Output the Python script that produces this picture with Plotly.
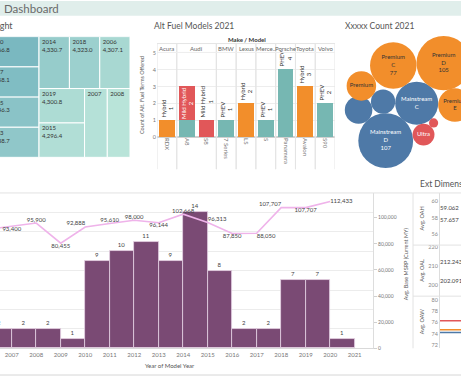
import math
import plotly.graph_objects as go

# ---------------- data ----------------
# Treemap (avg weight by model year); values in visual order (largest first)
tm_years = [2011, 2012, 2009, 2016, 2021, 2020, 2017, 2005, 2013, 2014, 2018, 2006, 2019, 2015, 2007, 2008]
tm_values = [4421.5, 4409.2, 4398.0, 4389.6, 4379.3, 4366.8, 4358.1, 4346.3, 4338.7,
             4330.7, 4323.0, 4307.1, 4300.8, 4296.4, 4290.2, 4285.5]

# Alt fuel models 2021
af_makes = ["Acura", "Audi", "Audi", "BMW", "Lexus", "Mercedes-Benz", "Porsche", "Toyota", "Volvo"]
af_models = ["RDX", "A8", "S8", "7 Series", "LS", "S", "Panamera", "Avalon", "S90"]
af_types = ["PHEV", "Hybrid", "Mild Hybrid"]
af_phev = [0, 1, 0, 1, 0, 1, 4, 0, 2]
af_hybrid = [1, 0, 0, 0, 2, 0, 0, 3, 0]
af_mild = [0, 2, 1, 0, 0, 0, 0, 0, 0]

# Packed bubbles (segment / class / count)
bub_segment = ["Mainstream", "Mainstream", "Premium", "Premium", "Ultra",
               "Mainstream", "Mainstream", "Premium", "Premium", "Ultra"]
bub_class = ["C", "D", "D", "C", "D", "B", "A", "B", "E", "C"]
bub_count = [66, 107, 105, 77, 17, 21, 27, 31, 40, 3]

# Combo chart: count of models and avg base MSRP by model year
cb_years = [2006, 2007, 2008, 2009, 2010, 2011, 2012, 2013, 2014, 2015, 2016, 2017, 2018, 2019, 2020]
cb_counts = [2, 2, 2, 1, 9, 10, 11, 9, 14, 8, 2, 2, 7, 7, 1]
cb_msrp = [91000, 93400, 95900, 80455, 92888, 95610, 98000, 96144, 102668,
           96313, 87850, 88050, 107707, 107707, 112433]

# Ext dimensions
ext_x = [2006, 2021]
ext_oah = [59.062, 57.657]
ext_oal = [212.243, 202.091]
ext_oaw = [76.3, 74.7, 74.2]

# ---------------- styles / layout params ----------------
W, H = 461, 380
FONT = "Lato, 'Open Sans', sans-serif"
ORANGE, TEAL, RED, BLUE = "#f28e2b", "#76b7b2", "#e15759", "#4e79a7"
PURPLE, PINK = "#7a4a74", "#efb3ea"
TYPE_COLORS = {"PHEV": TEAL, "Hybrid": ORANGE, "Mild Hybrid": RED}
SEG_COLORS = {"Mainstream": BLUE, "Premium": ORANGE, "Ultra": RED}
TM_W, TM_H, TM_VIS = 210.0, 122.0, 130.0
TM_GROUPS = [5, 4, 3, 2, 2]
K_BUB = 2.65
BUB_ANCHOR = (416.7, 103.3)
BUB_PACK = [None, ("angle", 0, 129.3), ("angle", 0, -56.4), ("pair", 0, 2, "left"),
            ("pair", 0, 1, "right"), ("pair", 0, 1, "left"), ("pair", 1, 5, "left"),
            ("pair", 3, 5, "left"), ("pair", 0, 2, "right"), ("pair", 0, 4, "right")]
CB_LABEL_POS = ["bottom center", "bottom center", "top center", "bottom center", "top left",
                "top center", "top center", "bottom center", "top center", "top right",
                "bottom center", "bottom right", "top left", "bottom center", "middle right"]
EXT_COLORS = [RED, ORANGE, BLUE]


def PX(x):
    return x / W


def PY(y):
    return 1 - y / H


def lerp_col(c1, c2, t):
    a = [int(c1[i:i + 2], 16) for i in (1, 3, 5)]
    b = [int(c2[i:i + 2], 16) for i in (1, 3, 5)]
    return "#" + "".join(f"{round(a[k] + (b[k] - a[k]) * t):02x}" for k in range(3))


fig = go.Figure()
ann = []
shapes = []


def add_ann(x, y, text, size=6, color="#555", xanchor="left", yanchor="middle", angle=0):
    ann.append(dict(x=PX(x), y=PY(y), xref="paper", yref="paper", text=text, showarrow=False,
                    xanchor=xanchor, yanchor=yanchor, textangle=angle,
                    font=dict(size=size, color=color, family=FONT)))


def hline(x0, x1, y, color="#e2e2e2", width=1):
    shapes.append(dict(type="line", xref="paper", yref="paper", x0=PX(x0), x1=PX(x1),
                       y0=PY(y), y1=PY(y), line=dict(color=color, width=width)))


def vline(x, y0, y1, color="#e2e2e2", width=1):
    shapes.append(dict(type="line", xref="paper", yref="paper", x0=PX(x), x1=PX(x),
                       y0=PY(y0), y1=PY(y1), line=dict(color=color, width=width)))


# ---------------- header ----------------
shapes.append(dict(type="rect", xref="paper", yref="paper", x0=0, x1=1, y0=PY(15), y1=1,
                   fillcolor="#e0eeeb", line=dict(width=0), layer="below"))
add_ann(2, 7.5, "Dashboard", size=11.5, color="#6a6a6a")

# ---------------- treemap ----------------
def strip_layout(vals, groups, x, y, w, h):
    rects, i = [], 0
    for g in groups:
        part = vals[i:i + g]
        rest = sum(vals[i:])
        s = sum(part)
        if w >= h:
            sw = w * s / rest
            yy = y
            for v in part:
                hh = h * v / s
                rects.append((x, yy, x + sw, yy + hh))
                yy += hh
            x += sw
            w -= sw
        else:
            sh = h * s / rest
            xx = x
            for v in part:
                ww = w * v / s
                rects.append((xx, y, xx + ww, y + sh))
                xx += ww
            y += sh
            h -= sh
        i += g
    return rects


rects = strip_layout(tm_values, TM_GROUPS, 0, 0, TM_W, TM_H)
vmin, vmax = min(tm_values), max(tm_values)
tx, ty, tt = [], [], []
for yr, v, (x0, y0, x1, y1) in zip(tm_years, tm_values, rects):
    col = lerp_col("#b9e4d9", "#4f9bb0", (v - vmin) / (vmax - vmin))
    fig.add_trace(go.Scatter(x=[x0, x1, x1, x0, x0], y=[y0, y0, y1, y1, y0], fill="toself",
                             fillcolor=col, mode="lines", line=dict(color="white", width=1),
                             hoverinfo="skip", showlegend=False, xaxis="x", yaxis="y"))
    tx.append(x0 + 3)
    ty.append(y0 + 3)
    tt.append(f"{yr}<br>{v:,.1f}" if (x1 - x0) >= 30 else f"{yr}")
fig.add_trace(go.Scatter(x=tx, y=ty, text=tt, mode="text", textposition="bottom right",
                         textfont=dict(size=6, color="#333", family=FONT),
                         hoverinfo="skip", showlegend=False, xaxis="x", yaxis="y"))
add_ann(15, 25, "Weight", size=9, color="#555", xanchor="right")

# ---------------- alt fuel bars ----------------
add_ann(152, 25, "Alt Fuel Models 2021", size=8.5, color="#555")
type_vals = {"PHEV": af_phev, "Hybrid": af_hybrid, "Mild Hybrid": af_mild}
nseg = [sum(1 for t in af_types if type_vals[t][i] > 0) for i in range(len(af_models))]
base = [0] * len(af_models)
for t in af_types:
    vals = type_vals[t]
    texts, pos = [], []
    for i, v in enumerate(vals):
        if v <= 0:
            texts.append("")
            pos.append("none")
        elif nseg[i] == 1:
            texts.append(f"{t}<br>{v}")
            pos.append("outside")
        else:
            texts.append(f"{t}<br>{v}" if v >= 2 else "")
            pos.append("inside")
    fig.add_trace(go.Bar(x=af_models, y=vals, base=list(base), marker=dict(color=TYPE_COLORS[t], line=dict(width=0)),
                         width=0.8, text=texts, textposition=pos, textangle=-90,
                         constraintext="none", cliponaxis=False,
                         insidetextanchor="middle",
                         outsidetextfont=dict(size=6, color="#333", family=FONT),
                         insidetextfont=dict(size=6, color="white", family=FONT),
                         hoverinfo="skip", showlegend=False, xaxis="x2", yaxis="y2"))
    base = [b + v for b, v in zip(base, vals)]

# make headers & separators
spans = []
for i, mk in enumerate(af_makes):
    if spans and spans[-1][0] == mk:
        spans[-1][2] = i
    else:
        spans.append([mk, i, i])
y_top, y_bot = 43, 170
for mk, i0, i1 in spans:
    label = mk if len(mk) <= 7 else mk[:5] + ".."
    ann.append(dict(x=(i0 + i1) / 2, y=PY(47.8), xref="x2", yref="paper", text=label,
                    showarrow=False, xanchor="center", yanchor="middle",
                    font=dict(size=6, color="#666", family=FONT)))
    for edge in (i0 - 0.5, i1 + 0.5):
        shapes.append(dict(type="line", xref="x2", yref="paper", x0=edge, x1=edge,
                           y0=PY(y_bot), y1=PY(y_top), line=dict(color="#e4e4e4", width=1)))
shapes.append(dict(type="line", xref="x2", yref="paper", x0=-0.5, x1=len(af_models) - 0.5,
                   y0=PY(y_top), y1=PY(y_top), line=dict(color="#e4e4e4", width=1)))
shapes.append(dict(type="line", xref="x2", yref="paper", x0=-0.5, x1=len(af_models) - 0.5,
                   y0=PY(52), y1=PY(52), line=dict(color="#eeeeee", width=1)))
add_ann(247, 39, "<b>Make / Model</b>", size=6, color="#333", xanchor="center")
add_ann(142, 95, "Count of Alt. Fuel Terms Offered", size=5.5, color="#555",
        xanchor="center", angle=-90)

# ---------------- packed bubbles ----------------
add_ann(343, 25, "Xxxxx Count 2021", size=8.5, color="#555")
radii = [K_BUB * math.sqrt(c) for c in bub_count]


def tangent_pair(c1, r1, c2, r2, r, pick):
    dxv, dyv = c2[0] - c1[0], c2[1] - c1[1]
    d = math.hypot(dxv, dyv)
    a_ = ((r1 + r) ** 2 - (r2 + r) ** 2 + d * d) / (2 * d)
    h_ = math.sqrt(max((r1 + r) ** 2 - a_ * a_, 0))
    bx, by = c1[0] + a_ * dxv / d, c1[1] + a_ * dyv / d
    ux, uy = -dyv / d, dxv / d
    cands = [(bx + h_ * ux, by + h_ * uy), (bx - h_ * ux, by - h_ * uy)]
    keyf = {"left": lambda p: p[0], "right": lambda p: -p[0],
            "up": lambda p: p[1], "down": lambda p: -p[1]}[pick]
    return min(cands, key=keyf)


centers = []
for i, spec in enumerate(BUB_PACK):
    if spec is None:
        centers.append(BUB_ANCHOR)
    elif spec[0] == "angle":
        j, ang = spec[1], math.radians(spec[2])
        d = radii[j] + radii[i]
        centers.append((centers[j][0] + d * math.cos(ang), centers[j][1] + d * math.sin(ang)))
    else:
        j, k, pick = spec[1], spec[2], spec[3]
        centers.append(tangent_pair(centers[j], radii[j], centers[k], radii[k], radii[i], pick))

labels, lcolors = [], []
for seg, cl, cnt, r in zip(bub_segment, bub_class, bub_count, radii):
    parts = [seg, cl, str(cnt)]
    shown = []
    for n in range(1, 4):
        wdt = max(len(p) for p in parts[:n]) * 3.6
        hgt = n * 8
        if (wdt / 2) ** 2 + (hgt / 2) ** 2 <= r * r:
            shown = parts[:n]
    labels.append("<br>".join(shown))
    lcolors.append("#333" if seg == "Premium" else "white")

fig.add_trace(go.Scatter(x=[c[0] for c in centers], y=[c[1] for c in centers], mode="markers+text",
                         marker=dict(size=[2 * r for r in radii], color=[SEG_COLORS[s] for s in bub_segment],
                                     line=dict(width=0), opacity=1),
                         text=labels, textposition="middle center",
                         textfont=dict(size=6, color=lcolors, family=FONT),
                         hoverinfo="skip", showlegend=False, xaxis="x3", yaxis="y3"))

# ---------------- combo chart ----------------
fig.add_trace(go.Bar(x=cb_years, y=cb_counts, offset=0, width=1,
                     marker=dict(color=PURPLE, line=dict(color="#e6d2e3", width=0.8)),
                     text=[str(c) for c in cb_counts], textposition="outside",
                     constraintext="none",
                     outsidetextfont=dict(size=6, color="#444", family=FONT),
                     hoverinfo="skip", showlegend=False, xaxis="x4", yaxis="y4"))
fig.add_trace(go.Scatter(x=cb_years, y=cb_msrp, mode="lines+text",
                         line=dict(color=PINK, width=1.6),
                         text=[f"{v:,}" for v in cb_msrp], textposition=CB_LABEL_POS,
                         textfont=dict(size=6, color="#444", family=FONT),
                         hoverinfo="skip", showlegend=False, xaxis="x4", yaxis="y5"))
add_ann(170, 368, "Year of Model Year", size=6, color="#555", xanchor="center")
add_ann(406, 266, "Avg. Base MSRP (Current MY)", size=5.5, color="#555", xanchor="center", angle=-90)

# ---------------- ext dimensions ----------------
add_ann(418, 185, "Ext Dimensions 2021", size=8.5, color="#555")
for vals, xa, ya in ((ext_oah, "x6", "y6"), (ext_oal, "x7", "y7")):
    fig.add_trace(go.Scatter(x=[ext_x[0]] * len(vals), y=vals, mode="text",
                             text=[f"{v:.3f}" for v in vals], textposition="middle right",
                             textfont=dict(size=6, color="#444", family=FONT), cliponaxis=False,
                             hoverinfo="skip", showlegend=False, xaxis=xa, yaxis=ya))
for v, c in zip(ext_oaw, EXT_COLORS):
    fig.add_trace(go.Scatter(x=ext_x, y=[v, v], mode="lines", line=dict(color=c, width=1.5),
                             hoverinfo="skip", showlegend=False, xaxis="x8", yaxis="y8"))
add_ann(421.7, 220, "Avg. OAH", size=5.5, color="#555", xanchor="center", angle=-90)
add_ann(421.7, 272, "Avg. OAL", size=5.5, color="#555", xanchor="center", angle=-90)
add_ann(421.7, 324, "Avg. OAW", size=5.5, color="#555", xanchor="center", angle=-90)

# dividers
hline(0, 461, 194)
vline(413, 194, 351)
hline(413, 461, 246.7)
hline(413, 461, 298.3)
hline(0, 461, 378, color="#d6d6d6")

tickf = dict(size=6, color="#777", family=FONT)
hidden = dict(visible=False, fixedrange=True)
fig.update_layout(
    width=W, height=H, autosize=False,
    margin=dict(l=0, r=0, t=0, b=0, pad=0),
    paper_bgcolor="white", plot_bgcolor="rgba(0,0,0,0)",
    font=dict(family=FONT), barmode="overlay", bargap=0,
    showlegend=False,
    xaxis=dict(domain=[PX(0), PX(TM_VIS)], range=[TM_W - TM_VIS, TM_W], **hidden),
    yaxis=dict(domain=[PY(158), PY(36)], range=[TM_H, 0], **hidden),
    xaxis2=dict(domain=[PX(157), PX(335)], type="category", range=[-0.5, len(af_models) - 0.5],
                tickangle=90, tickfont=tickf, ticks="", showgrid=False, showline=False,
                zeroline=False, anchor="y2"),
    yaxis2=dict(domain=[PY(137.5), PY(50)], range=[0, 5.15], dtick=1,
                tickfont=dict(size=5.5, color="#777", family=FONT), ticks="",
                gridcolor="#ededed", zeroline=True, zerolinecolor="#d0d0d0", anchor="x2"),
    xaxis3=dict(domain=[PX(337), PX(461)], range=[337, 461], **hidden, anchor="y3"),
    yaxis3=dict(domain=[PY(170), PY(30)], range=[170, 30], **hidden, anchor="x3"),
    xaxis4=dict(domain=[PX(0), PX(373)], range=[2006.52, 2021.75],
                tickvals=list(range(2007, 2022)), tickformat="d", tickfont=tickf, ticks="",
                showgrid=False, showline=True, linecolor="#d9d9d9", zeroline=False, anchor="y4"),
    yaxis4=dict(domain=[PY(351), PY(194)], range=[0, 16], dtick=2, showticklabels=False,
                ticks="", gridcolor="#ececec", zeroline=False, anchor="x4"),
    yaxis5=dict(overlaying="y4", side="right", anchor="x4", range=[0, 118939],
                tickvals=[0, 20000, 40000, 60000, 80000, 100000], tickprefix="$", tickformat=",d",
                ticks="outside", ticklen=3, tickcolor="#d0d0d0",
                tickfont=dict(size=5, color="#777", family=FONT),
                showgrid=False, showline=True, linecolor="#dddddd", zeroline=False),
    xaxis6=dict(domain=[PX(440), PX(461)], range=[2006, 2007], **hidden, anchor="y6"),
    yaxis6=dict(domain=[PY(246.7), PY(194)], range=[54.7, 61.0], tickvals=[56, 58, 60],
                tickfont=dict(size=5.5, color="#888", family=FONT), ticks="", showgrid=False,
                showline=True, linecolor="#dddddd", zeroline=False, anchor="x6"),
    xaxis7=dict(domain=[PX(440), PX(461)], range=[2006, 2007], **hidden, anchor="y7"),
    yaxis7=dict(domain=[PY(298.3), PY(246.7)], range=[194.2, 221.2], tickvals=[200, 210, 220],
                tickfont=dict(size=5.5, color="#888", family=FONT), ticks="", showgrid=False,
                showline=True, linecolor="#dddddd", zeroline=False, anchor="x7"),
    xaxis8=dict(domain=[PX(440), PX(461)], range=[2006, 2007], **hidden, anchor="y8"),
    yaxis8=dict(domain=[PY(351), PY(298.3)], range=[71.4, 80.7], tickvals=[72, 74, 76, 78, 80],
                tickfont=dict(size=5.5, color="#888", family=FONT), ticks="", showgrid=False,
                showline=True, linecolor="#dddddd", zeroline=False, anchor="x8"),
    annotations=ann, shapes=shapes,
)

fig.write_html("out.html", config={"displayModeBar": False},
               post_script="document.body.style.margin='0';document.body.style.overflow='hidden';")
